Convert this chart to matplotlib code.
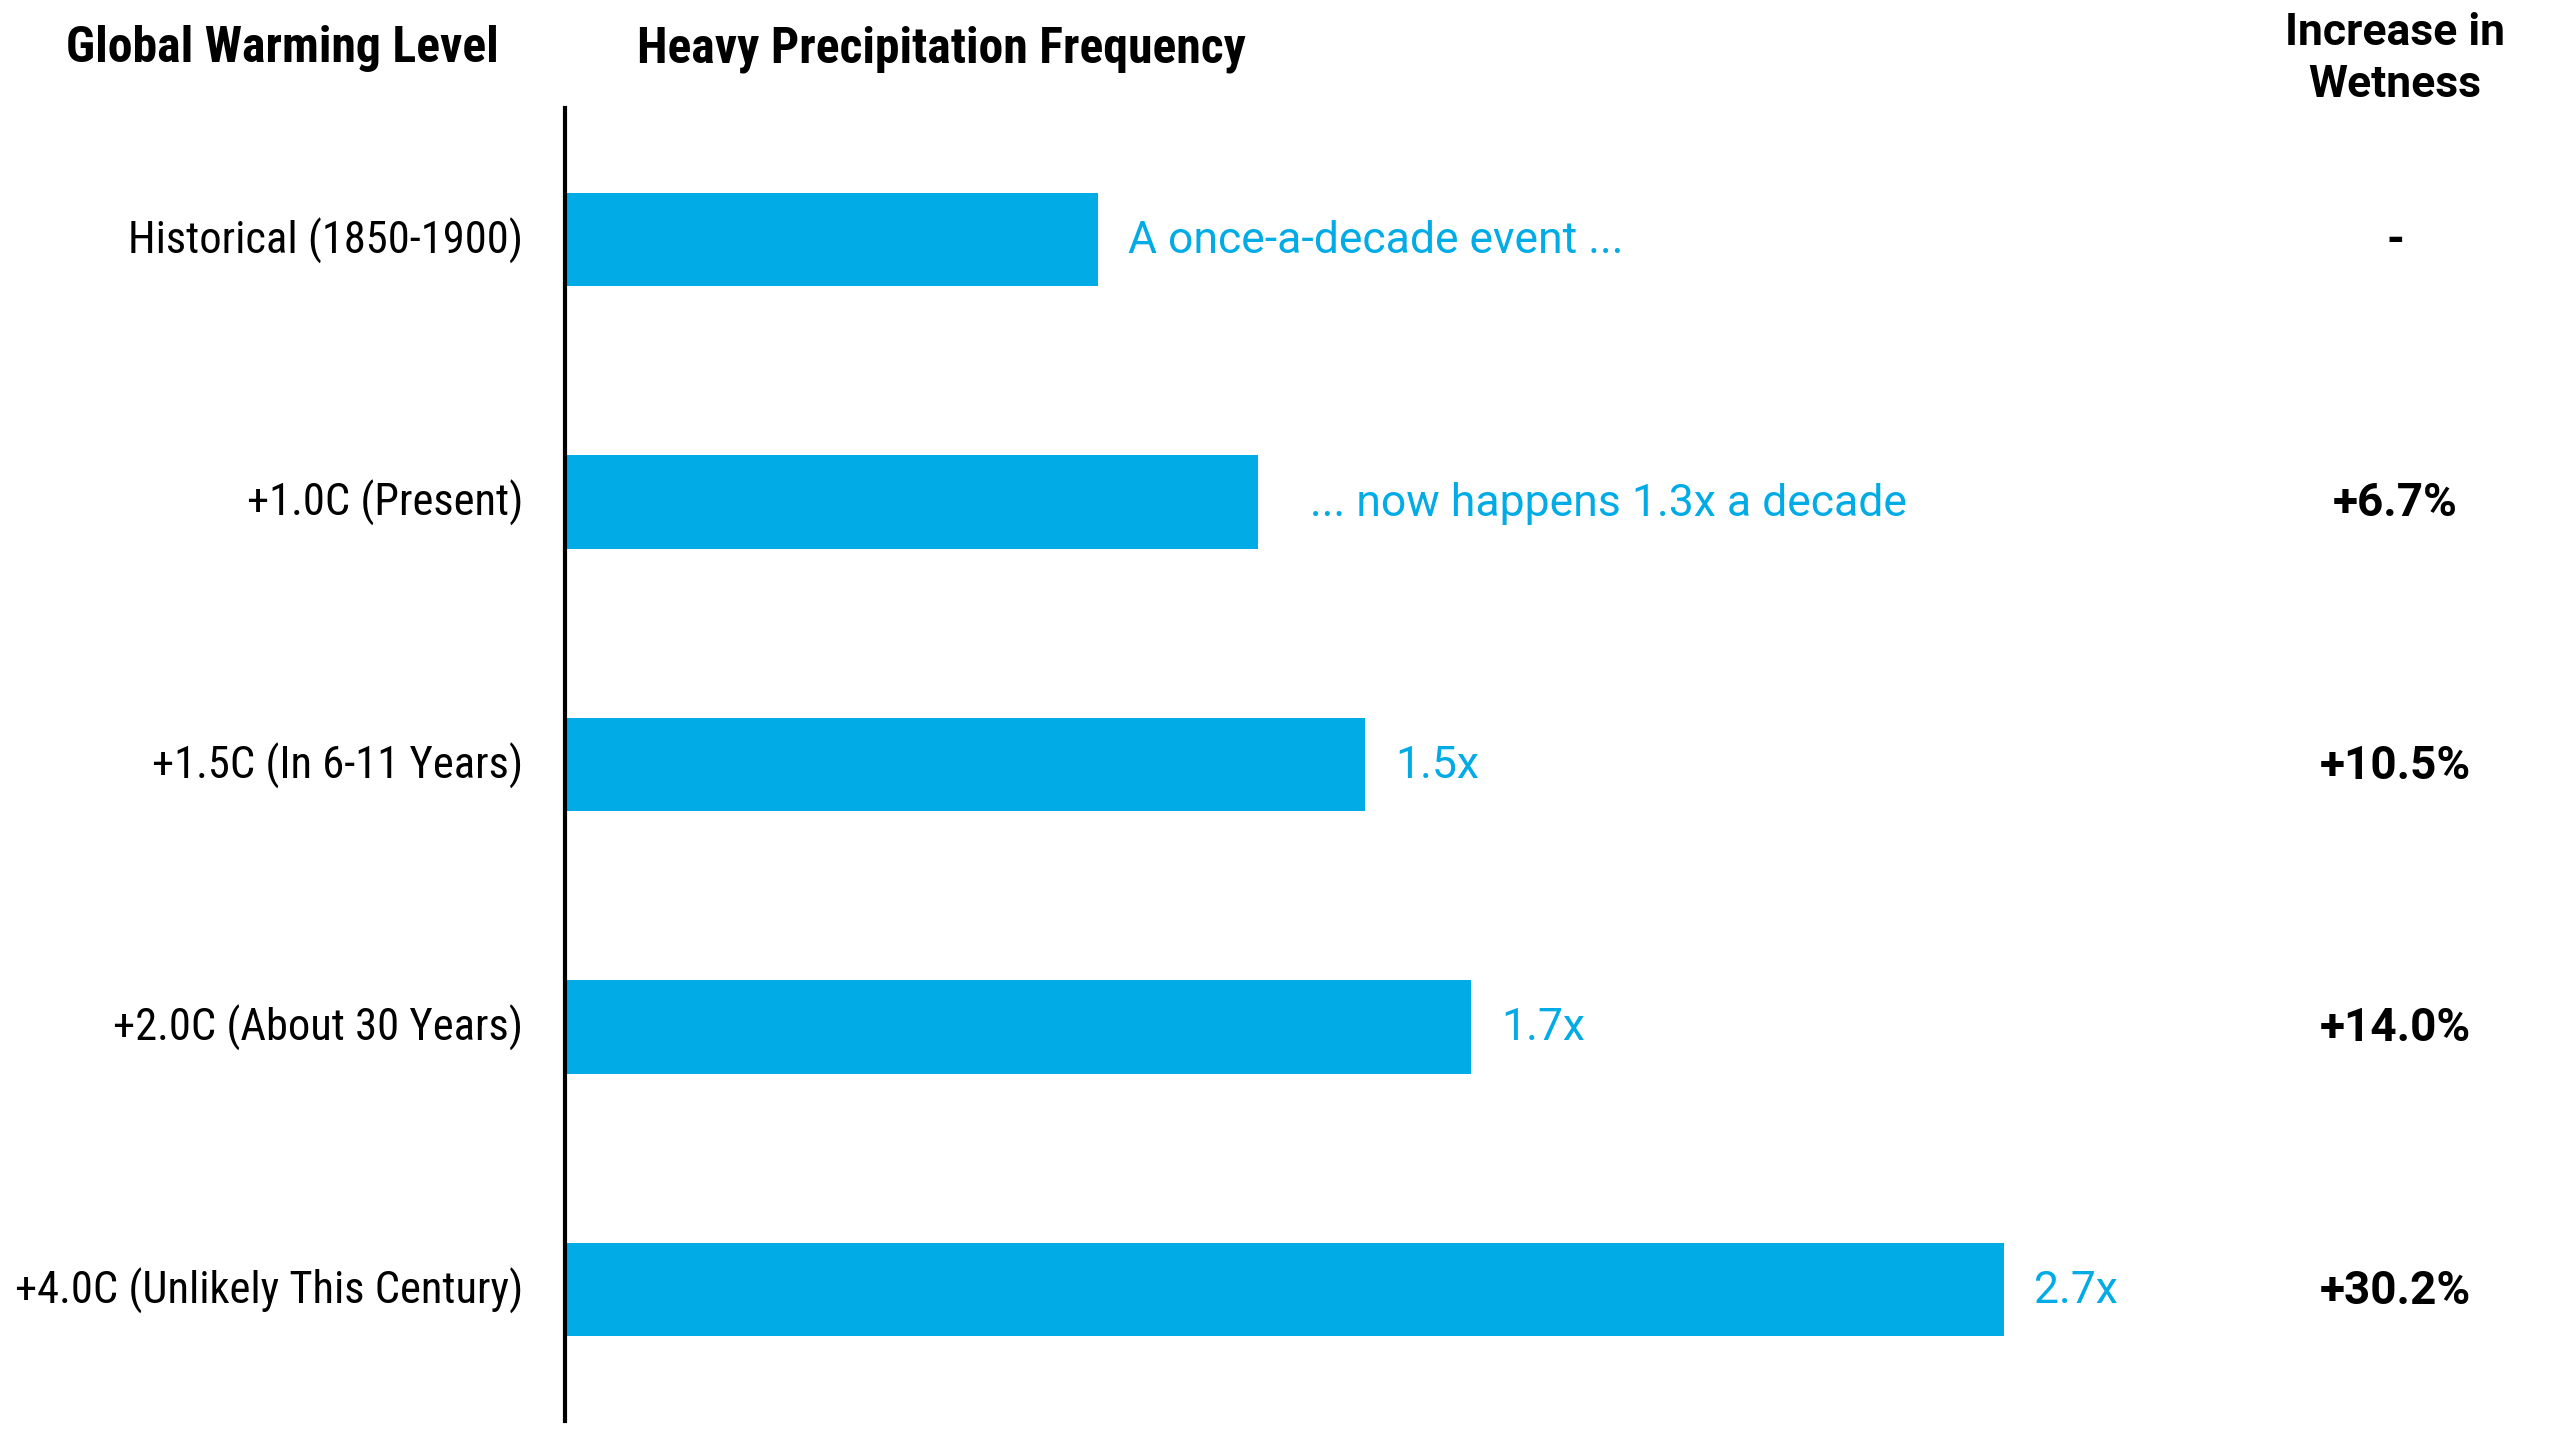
import matplotlib
matplotlib.use("Agg")
import matplotlib.pyplot as plt
import matplotlib.transforms as mtransforms
from matplotlib import font_manager

# data
levels = ["Historical (1850-1900)", "+1.0C (Present)", "+1.5C (In 6-11 Years)",
          "+2.0C (About 30 Years)", "+4.0C (Unlikely This Century)"]
frequency = [1.0, 1.3, 1.5, 1.7, 2.7]
bar_notes = ["A once-a-decade event ...", "  ... now happens 1.3x a decade", "1.5x", "1.7x", "2.7x"]
wetness = ["-", "+6.7%", "+10.5%", "+14.0%", "+30.2%"]

blue = "#00ABE6"

# pick a narrow face for the left labels if one is installed
names = {f.name for f in font_manager.fontManager.ttflist}
if "Roboto Condensed" in names:
    narrow, narrow_size = "Roboto Condensed", 32
elif "Liberation Sans Narrow" in names:
    narrow, narrow_size = "Liberation Sans Narrow", 32
else:
    narrow, narrow_size = "Roboto", 26

plt.rcParams['font.family'] = ['Roboto', 'DejaVu Sans']

fig = plt.figure(figsize=(25.6, 14.45), dpi=100)
ax = fig.add_axes([565/2560, 1 - 1421/1445, 1 - 565/2560, (1421 - 108)/1445])

y = list(range(len(levels)))
ax.barh(y, frequency, height=0.355, color=blue, zorder=2)

ax.set_xlim(0, 1995/533)
ax.set_ylim(4.5, -0.5)

for s in ["top", "right", "bottom"]:
    ax.spines[s].set_visible(False)
ax.spines["left"].set_linewidth(3)
ax.spines["left"].set_color("black")
ax.set_xticks([])
ax.set_yticks([])

# row labels on the left, wetness column on the right
trans = mtransforms.blended_transform_factory(fig.transFigure, ax.transData)
for i in range(len(levels)):
    ax.text(523/2560, y[i] + 0.005, levels[i], transform=trans, ha="right", va="center",
            fontsize=narrow_size, family=narrow, color="black")
    ax.text(frequency[i] + 0.057, y[i] + 0.005, bar_notes[i], ha="left", va="center",
            fontsize=32, color=blue)
    ax.text(2395/2560, y[i] + 0.005, wetness[i], transform=trans, ha="center", va="center",
            fontsize=33, fontweight="bold", color="black")

# column headers
fig.text(282/2560, 1 - 49/1445, "Global Warming Level", ha="center", va="center",
         fontsize=narrow_size * 1.12, family=narrow, fontweight="bold")
fig.text(637/2560, 1 - 49/1445, "Heavy Precipitation Frequency", ha="left", va="center",
         fontsize=narrow_size * 1.12, family=narrow, fontweight="bold")
fig.text(2395/2560, 1 - 59/1445, "Increase in\nWetness", ha="center", va="center",
         fontsize=32, fontweight="bold", linespacing=1.3)

plt.savefig("out.png", dpi=100)
